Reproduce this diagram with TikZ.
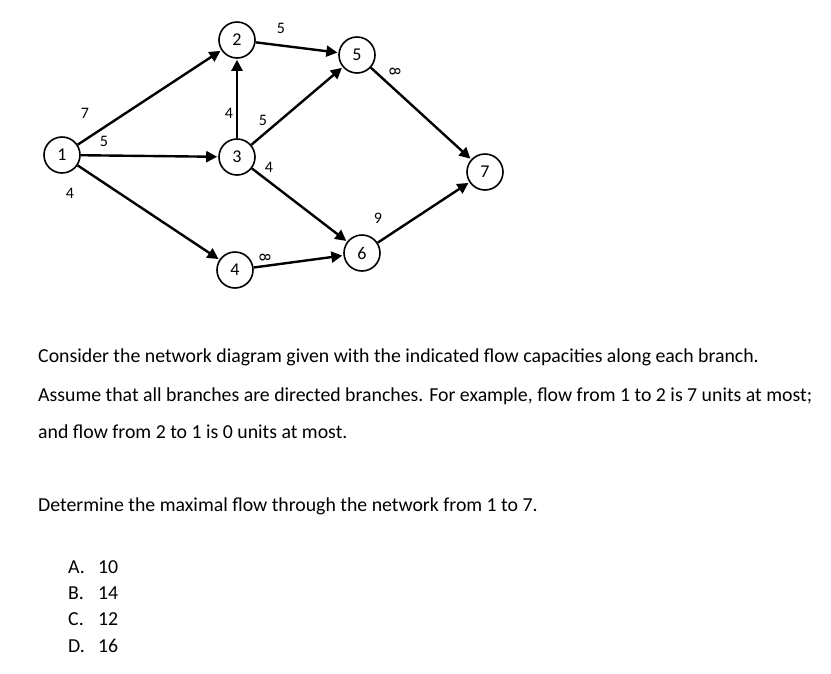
\documentclass[tikz,border=0pt]{standalone}
\usepackage{fontspec}
\setmainfont{Carlito}
\usetikzlibrary{arrows.meta}
\begin{document}
\begin{tikzpicture}[x=1pt,y=-1pt,
  nd/.style={circle,draw,line width=1.6pt,fill=white,minimum size=36pt,inner sep=0pt,font=\fontsize{18}{20}\selectfont},
  ed/.style={line width=2.4pt,-{Triangle[length=11pt,width=11pt]},shorten >=1pt},
  lb/.style={font=\fontsize{16}{18}\selectfont,inner sep=1pt},
  tx/.style={anchor=west,font=\fontsize{19.8}{22}\selectfont,inner sep=0pt}]
\useasboundingbox (0,0) rectangle (831,673);
\node[nd] (n1) at (62,155) {1};
\node[nd] (n2) at (237,40) {2};
\node[nd] (n3) at (237,157) {3};
\node[nd] (n4) at (235,270) {4};
\node[nd] (n5) at (357,55) {5};
\node[nd] (n6) at (362,253) {6};
\node[nd] (n7) at (485,172) {7};
\draw[ed] (n1) -- (n2);
\draw[ed] (n1) -- (n3);
\draw[ed] (n1) -- (n4);
\draw[ed] (n3) -- (n2);
\draw[ed] (n2) -- (n5);
\draw[ed] (n3) -- (n5);
\draw[ed] (n3) -- (n6);
\draw[ed] (n4) -- (n6);
\draw[ed] (n5) -- (n7);
\draw[ed] (n6) -- (n7);
\node[lb] (l12) at (85,113) {7};
\node[lb] (l13) at (104,141) {5};
\node[lb] (l14) at (70,193) {4};
\node[lb] (l32) at (229,113) {4};
\node[lb] (l35) at (263,120) {5};
\node[lb] (l25) at (281,28) {5};
\node[lb] (l36) at (269,167) {4};
\node[lb,rotate=-90] (l46) at (265,258) {8};
\node[lb,rotate=-90] (l57) at (395,72) {8};
\node[lb] (l67) at (378,218) {9};
\node[tx] (t1) at (38,357) {Consider the network diagram given with the indicated flow capacities along each branch.};
\node[tx] (t2) at (38,396) {Assume that all branches are directed branches. For example, flow from 1 to 2 is 7 units at most;};
\node[tx] (t3) at (38,432) {and flow from 2 to 1 is 0 units at most.};
\node[tx] (t4) at (38,506) {Determine the maximal flow through the network from 1 to 7.};
\foreach \y/\l/\v in {567/A/10,593/B/14,619/C/12,646/D/16}{
  \node[tx] at (68,\y) {\l.};
  \node[tx] at (98,\y) {\v};
}
\end{tikzpicture}
\end{document}
